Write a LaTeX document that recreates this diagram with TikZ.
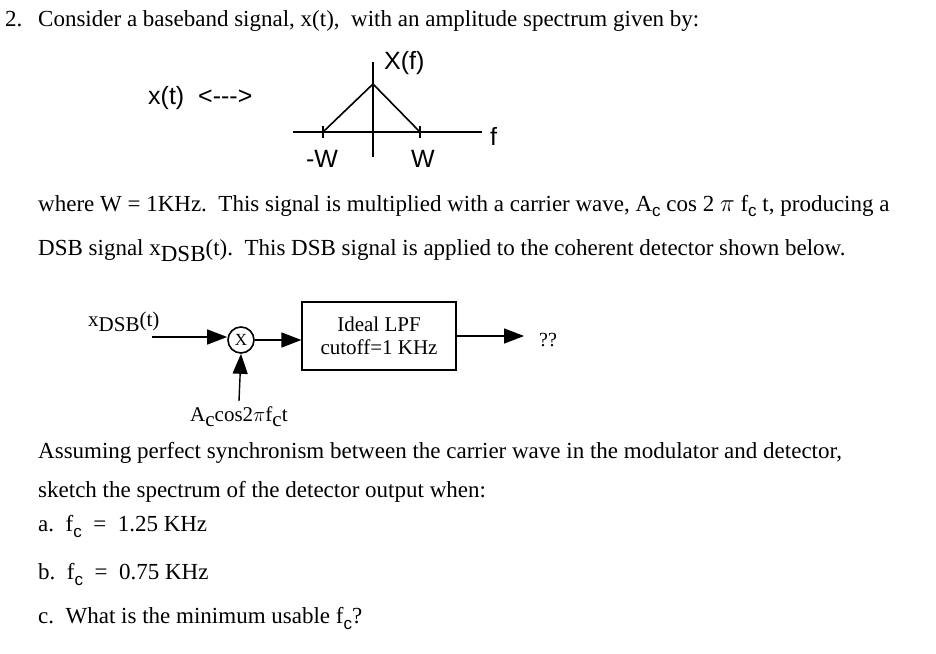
\documentclass[tikz,border=0pt]{standalone}
\usepackage{fontspec}
\setmainfont{Liberation Serif}
\newfontfamily\sfx{Liberation Sans}
\usetikzlibrary{arrows.meta}
\begin{document}
\begin{tikzpicture}[x=1pt,y=-1pt,
  txt/.style={anchor=base west,inner sep=0pt,font=\fontsize{23}{26}\selectfont},
  sf/.style={inner sep=0pt,font=\sfx\fontsize{25}{28}\selectfont},
  ln/.style={line width=1.6pt},
  arr/.style={line width=1.4pt,-{Triangle[length=20pt,width=15pt]}}]
\useasboundingbox (0,0) rectangle (936,653);
\node[txt] (n2) at (5,27) {2.};
\node[txt] (t1) at (38,27) {Consider a baseband signal, x(t),\ \ with an amplitude spectrum given by:};
% spectrum
\draw[line width=1.3pt] (293,132) -- (482,132);
\draw[line width=1.3pt] (373,62) -- (373,157);
\draw[line width=1.3pt] (323,126) -- (323,138) (420,126) -- (420,138);
\draw[ln] (323,132) -- (373,84) -- (420,132);
\node[sf,anchor=base west] (xf) at (384,69) {X(f)};
\node[sf,anchor=base west] (f) at (490,145) {f};
\node[sf,anchor=base] (mw) at (322,167) {-W};
\node[sf,anchor=base] (w) at (423,167) {W};
\node[sf,anchor=base west] (xt) at (148,104) {x(t)\ \ <--->};
\node[txt] (t2) at (38,211) {where W = 1KHz.\ \ This signal is multiplied with a carrier wave, A\raisebox{-5pt}{\sfx\fontsize{17}{18}\selectfont c} cos 2 $\pi$ f\raisebox{-5pt}{\sfx\fontsize{17}{18}\selectfont c} t, producing a};
\node[txt] (t3) at (38,255) {DSB signal x\raisebox{-6pt}{DSB}(t).\ \ This DSB signal is applied to the coherent detector shown below.};
% block diagram
\node[txt,font=\fontsize{21}{24}\selectfont] (xin) at (88,326) {x\raisebox{-5pt}{DSB}(t)};
\coordinate (in) at (152,337);
\node[draw,circle,line width=1.6pt,minimum size=26pt,inner sep=0pt,font=\fontsize{17}{18}\selectfont] (mix) at (241,340) {X};
\node[draw,line width=1.2pt,minimum width=154pt,minimum height=68pt,align=center,font=\fontsize{21}{23}\selectfont] (lpf) at (379,336) {Ideal LPF\\cutoff=1 KHz};
\coordinate (out) at (524,336);
\coordinate (car) at (239,401);
\draw[arr] (in) -- (mix.west|-in);
\draw[arr] (mix.east) -- (lpf.west|-mix.east);
\draw[arr] (lpf.east) -- (out);
\draw[arr] (car) -- (mix.south);
\node[txt,font=\fontsize{20}{22}\selectfont] (q) at (539,346) {??};
\node[txt,font=\fontsize{21}{24}\selectfont] (cl) at (190,421) {A\raisebox{-5pt}{c}cos2$\pi$f\raisebox{-5pt}{c}t};
\node[txt] (t4) at (38,458) {Assuming perfect synchronism between the carrier wave in the modulator and detector,};
\node[txt] (t5) at (38,497) {sketch the spectrum of the detector output when:};
\node[txt] (ta) at (38,531) {a.\ \ f\raisebox{-6pt}{\sfx\fontsize{17}{18}\selectfont c}\ \ =\ \ 1.25 KHz};
\node[txt] (tb) at (38,579) {b.\ \ f\raisebox{-6pt}{\sfx\fontsize{17}{18}\selectfont c}\ \ =\ \ 0.75 KHz};
\node[txt] (tc) at (38,623) {c.\ \ What is the minimum usable f\raisebox{-6pt}{\sfx\fontsize{17}{18}\selectfont c}?};
\end{tikzpicture}
\end{document}
